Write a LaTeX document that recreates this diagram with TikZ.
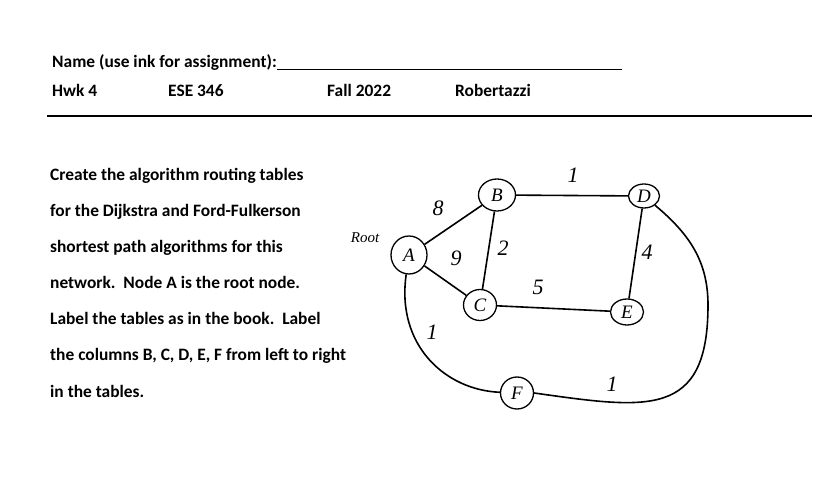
\documentclass[tikz,border=0pt]{standalone}
\usepackage{fontspec}
\setmainfont{Carlito}
\newfontfamily\hand{Liberation Serif}
\usetikzlibrary{shapes.geometric}
\begin{document}
\begin{tikzpicture}[x=1pt,y=1pt]
\tikzstyle{place}=[ellipse, draw=black, line width=1.3pt, inner sep=0pt, font=\hand\fontsize{19}{19}\selectfont\itshape]
\tikzstyle{hw}=[font=\hand\fontsize{22}{22}\selectfont\itshape]
\tikzstyle{txt}=[anchor=base west, inner sep=0pt, font=\fontsize{17.4}{17.4}\selectfont\bfseries]
\tikzstyle{link}=[line width=1.6pt]
\useasboundingbox (0,0) rectangle (833,-486);

% Header
\node[txt] (name) at (52,-68) {Name (use ink for assignment):};
\coordinate (name_end) at (622,-70);
\draw[line width=1pt] (name.base east |- name_end) -- (name_end);
\node[txt] (hwk) at (52,-97) {Hwk 4};
\node[txt] (course) at (168,-97) {ESE 346};
\node[txt] (term) at (327,-97) {Fall 2022};
\node[txt] (prof) at (455,-97) {Robertazzi};
\coordinate (rule_l) at (47,-116);
\coordinate (rule_r) at (812,-116);
\draw[line width=1.5pt] (rule_l) -- (rule_r);

% Text
\foreach \l [count=\i] in {{Create the algorithm routing tables},
  {for the Dijkstra and Ford-Fulkerson},
  {shortest path algorithms for this},
  {network.~~Node A is the root node.},
  {Label the tables as in the book.~~Label},
  {the columns B, C, D, E, F from left to right},
  {in the tables.}}
\node[txt] (line_\i) at (50, -145-\i*36) {\l};

% Network
\node[place, minimum width=36, minimum height=38] (A) at (409,-255) {A};
\node[place, minimum width=37, minimum height=32] (B) at (497,-195) {B};
\node[place, minimum width=33, minimum height=31] (C) at (480,-305) {C};
\node[place, minimum width=31, minimum height=24] (D) at (644,-196) {D};
\node[place, minimum width=33, minimum height=26] (E) at (627,-312) {E};
\node[place, minimum width=33, minimum height=32] (F) at (517,-393) {F};
\node[font=\hand\fontsize{15}{15}\selectfont\itshape] (root) at (365,-238) {Root};
\coordinate (bend) at (708,-305);

\draw[link] (A) -- (B);
\draw[link] (A) -- (C);
\draw[link] (B) -- (C);
\draw[link] (B) -- (D);
\draw[link] (C) -- (E);
\draw[link] (D) -- (E);
\draw[link] (A) .. controls (396,-345) and (445,-390) .. (F);
\draw[link] (F.east) to[out=-8, in=-90, looseness=1.5] (bend) to[out=90, in=-40] (D);

% Weights
\node[hw] (w_ab) at (438,-208) {8};
\node[hw] (w_ac) at (456,-258) {9};
\node[hw] (w_bc) at (503,-248) {2};
\node[hw] (w_bd) at (573,-175) {1};
\node[hw] (w_ce) at (538,-287) {5};
\node[hw] (w_de) at (647,-252) {4};
\node[hw] (w_af) at (432,-332) {1};
\node[hw] (w_fd) at (612,-384) {1};
\end{tikzpicture}
\end{document}
